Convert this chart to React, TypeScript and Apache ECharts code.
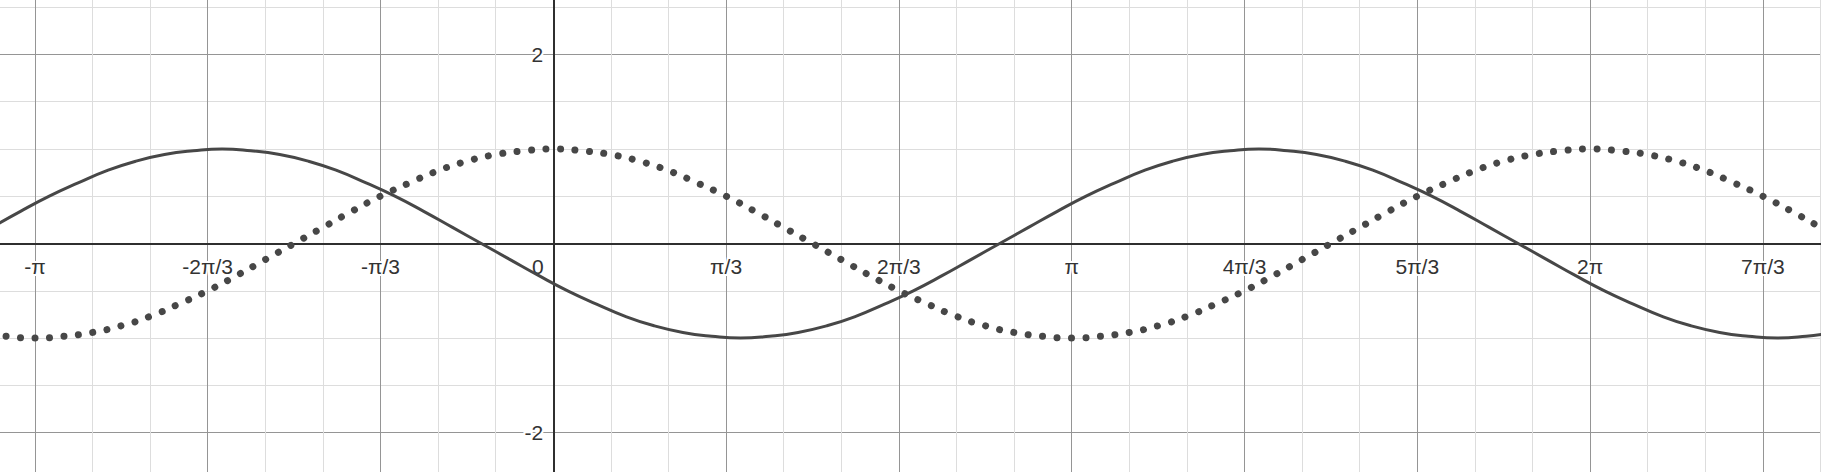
import { useEffect, useRef } from "react";
import * as echarts from "echarts";

const SOLID_X = [
  -195, -185, -175, -165, -155, -145, -135, -125, -115, -105,
  -95, -85, -75, -65, -55, -45, -35, -25, -15, -5,
  5, 15, 25, 35, 45, 55, 65, 75, 85, 95,
  105, 115, 125, 135, 145, 155, 165, 175, 185, 195,
  205, 215, 225, 235, 245, 255, 265, 275, 285, 295,
  305, 315, 325, 335, 345, 355, 365, 375, 385, 395,
  405, 415, 425, 435, 445,
];
const SOLID_Y = [
  0.17, 0.34, 0.5, 0.64, 0.77, 0.87, 0.94, 0.98, 1.0, 0.98,
  0.94, 0.87, 0.77, 0.64, 0.5, 0.34, 0.17, 0.0, -0.17, -0.34,
  -0.5, -0.64, -0.77, -0.87, -0.94, -0.98, -1.0, -0.98, -0.94, -0.87,
  -0.77, -0.64, -0.5, -0.34, -0.17, 0.0, 0.17, 0.34, 0.5, 0.64,
  0.77, 0.87, 0.94, 0.98, 1.0, 0.98, 0.94, 0.87, 0.77, 0.64,
  0.5, 0.34, 0.17, 0.0, -0.17, -0.34, -0.5, -0.64, -0.77, -0.87,
  -0.94, -0.98, -1.0, -0.98, -0.94,
];

const DOTTED_X = [
  -200, -190, -180, -170, -160, -150, -140, -130, -120, -110,
  -100, -90, -80, -70, -60, -50, -40, -30, -20, -10,
  0, 10, 20, 30, 40, 50, 60, 70, 80, 90,
  100, 110, 120, 130, 140, 150, 160, 170, 180, 190,
  200, 210, 220, 230, 240, 250, 260, 270, 280, 290,
  300, 310, 320, 330, 340, 350, 360, 370, 380, 390,
  400, 410, 420, 430, 440, 450,
];
const DOTTED_Y = [
  -0.94, -0.98, -1.0, -0.98, -0.94, -0.87, -0.77, -0.64, -0.5, -0.34,
  -0.17, 0.0, 0.17, 0.34, 0.5, 0.64, 0.77, 0.87, 0.94, 0.98,
  1.0, 0.98, 0.94, 0.87, 0.77, 0.64, 0.5, 0.34, 0.17, 0.0,
  -0.17, -0.34, -0.5, -0.64, -0.77, -0.87, -0.94, -0.98, -1.0, -0.98,
  -0.94, -0.87, -0.77, -0.64, -0.5, -0.34, -0.17, 0.0, 0.17, 0.34,
  0.5, 0.64, 0.77, 0.87, 0.94, 0.98, 1.0, 0.98, 0.94, 0.87,
  0.77, 0.64, 0.5, 0.34, 0.17, 0.0,
];

const X_TICKS = [-180, -120, -60, 0, 60, 120, 180, 240, 300, 360, 420];
const X_TICK_LABELS = ["-π", "-2π/3", "-π/3", "0", "π/3", "2π/3", "π", "4π/3", "5π/3", "2π", "7π/3"];
const Y_TICKS = [-2, 2];
const Y_TICK_LABELS = ["-2", "2"];

// view: where the origin sits in the window and the scale of each axis
const ORIGIN_X = 553.3;
const ORIGIN_Y = 243.5;
const PX_PER_DEG = 2.88;
const PX_PER_UNIT = 94.6;
const X_MIN = -240;
const X_MAX = 480;
const Y_MIN = -4;
const Y_MAX = 4;

const FONT = '"Liberation Sans", Arial, sans-serif';
const INK = "#474747";
const AXIS = "#2f2f2f";
const MAJOR = "#959595";
const MINOR = "#dddddd";

export default function App() {
  const ref = useRef<HTMLDivElement | null>(null);

  useEffect(() => {
    document.body.style.margin = "0";
    document.body.style.overflow = "hidden";
    const el = ref.current;
    if (!el) return;
    const chart = echarts.init(el, null, { renderer: "svg" });

    const labelBase = {
      fontSize: 21,
      fontFamily: FONT,
      color: "#333",
      textBorderColor: "#fff",
      textBorderWidth: 4,
    };

    const left = ORIGIN_X + X_MIN * PX_PER_DEG;
    const width = (X_MAX - X_MIN) * PX_PER_DEG;
    const top = ORIGIN_Y - Y_MAX * PX_PER_UNIT;
    const height = (Y_MAX - Y_MIN) * PX_PER_UNIT;
    const hidden = { show: false };

    chart.setOption({
      animation: false,
      grid: [
        // main plot, larger than the window
        { left, top, width, height, containLabel: false, outerBoundsMode: "none" },
        // upper half only: its bottom edge is the x axis, carries the x labels
        { left, top, width, height: Y_MAX * PX_PER_UNIT, containLabel: false, outerBoundsMode: "none" },
        // right half only: its left edge is the y axis, carries the y labels
        { left: ORIGIN_X, top, width: X_MAX * PX_PER_DEG, height, containLabel: false, outerBoundsMode: "none" },
      ],
      xAxis: [
        {
          gridIndex: 0,
          type: "value",
          min: X_MIN,
          max: X_MAX,
          interval: 60,
          axisLine: { onZero: true, lineStyle: { color: AXIS, width: 2 } },
          axisTick: hidden,
          axisLabel: hidden,
          minorTick: { show: false, splitNumber: 3 },
          splitLine: { show: true, lineStyle: { color: MAJOR, width: 1 } },
          minorSplitLine: { show: true, lineStyle: { color: MINOR, width: 1 } },
        },
        {
          gridIndex: 1,
          type: "value",
          min: X_MIN,
          max: X_MAX,
          interval: 60,
          position: "bottom",
          axisLine: hidden,
          axisTick: hidden,
          splitLine: hidden,
          axisLabel: {
            ...labelBase,
            margin: 12,
            formatter: (v: number) => {
              const i = X_TICKS.indexOf(v);
              if (i < 0) return "";
              return v === 0 ? "{zero|0}" : X_TICK_LABELS[i];
            },
            rich: {
              zero: { ...labelBase, padding: [0, 31, 0, 0] },
            },
          },
        },
        { gridIndex: 2, type: "value", min: 0, max: X_MAX, show: false },
      ],
      yAxis: [
        {
          gridIndex: 0,
          type: "value",
          min: Y_MIN,
          max: Y_MAX,
          interval: 2,
          axisLine: { onZero: true, lineStyle: { color: AXIS, width: 2 } },
          axisTick: hidden,
          axisLabel: hidden,
          minorTick: { show: false, splitNumber: 4 },
          splitLine: { show: true, lineStyle: { color: MAJOR, width: 1 } },
          minorSplitLine: { show: true, lineStyle: { color: MINOR, width: 1 } },
        },
        { gridIndex: 1, type: "value", min: 0, max: Y_MAX, show: false },
        {
          gridIndex: 2,
          type: "value",
          min: Y_MIN,
          max: Y_MAX,
          interval: 2,
          position: "left",
          axisLine: hidden,
          axisTick: hidden,
          splitLine: hidden,
          axisLabel: {
            ...labelBase,
            margin: 10,
            formatter: (v: number) => {
              const i = Y_TICKS.indexOf(v);
              return i < 0 ? "" : Y_TICK_LABELS[i];
            },
          },
        },
      ],
      series: [
        {
          type: "line",
          xAxisIndex: 0,
          yAxisIndex: 0,
          data: DOTTED_X.map((x, i) => [x, DOTTED_Y[i]]),
          smooth: true,
          showSymbol: false,
          lineStyle: { color: INK, width: 7, type: [0.01, 14.5], cap: "round" },
        },
        {
          type: "line",
          xAxisIndex: 0,
          yAxisIndex: 0,
          data: SOLID_X.map((x, i) => [x, SOLID_Y[i]]),
          smooth: true,
          showSymbol: false,
          lineStyle: { color: INK, width: 3 },
        },
      ],
    });

    return () => chart.dispose();
  }, []);

  return <div ref={ref} style={{ width: 1821, height: 472 }} />;
}
